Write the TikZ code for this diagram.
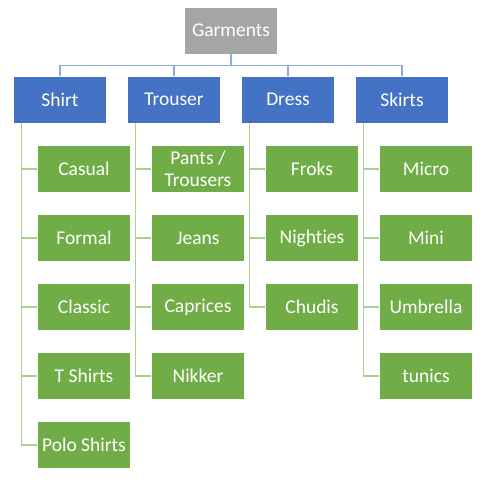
\documentclass[tikz,border=0pt]{standalone}
\usepackage{fontspec}
\setmainfont{Carlito}[Ligatures=NoCommon]
\usetikzlibrary{positioning}
\definecolor{headgray}{HTML}{A5A5A5}
\definecolor{catblue}{HTML}{4472C4}
\definecolor{itemgreen}{HTML}{70AD47}
\definecolor{linkblue}{HTML}{8FAADC}
\definecolor{linkgreen}{HTML}{A9D18E}
\tikzset{
    box/.style ={rectangle, draw=white, line width=0.6pt, text=white,
                 minimum width=93pt, minimum height=47pt, inner sep=1pt,
                 align=center, font=\fontsize{19.5}{22}\selectfont},
    head/.style ={box, fill=headgray},
    cat/.style ={box, fill=catblue},
    item/.style ={box, fill=itemgreen},
    toplink/.style ={draw=linkblue, line width=1.5pt},
    sublink/.style ={draw=linkgreen, line width=1.5pt}
    }

\begin{document}
\begin{tikzpicture}[x=1pt, y=-1pt]
    \useasboundingbox (0,0) rectangle (498,485);

    \node[head] (garments) at (231, 30.5) {Garments};

    \node[cat] (shirt)   at (60, 99.5)  {Shirt};
    \node[cat] (trouser) at (174, 99.5) {Trouser};
    \node[cat] (dress)   at (288, 99.5) {Dress};
    \node[cat] (skirts)  at (402, 99.5) {Skirts};

    % shirt column
    \node[item] (casual)  at (84, 169) {Casual};
    \node[item] (formal)  at (84, 238) {Formal};
    \node[item] (classic) at (84, 307) {Classic};
    \node[item] (tshirts) at (84, 376) {T Shirts};
    \node[item] (polo)    at (84, 445) {Polo Shirts};

    % trouser column
    \node[item] (pants)   at (198, 169) {Pants /\\Trousers};
    \node[item] (jeans)   at (198, 238) {Jeans};
    \node[item] (caprices) at (198, 307) {Caprices};
    \node[item] (nikker)  at (198, 376) {Nikker};

    % dress column
    \node[item] (froks)    at (312, 169) {Froks};
    \node[item] (nighties) at (312, 238) {Nighties};
    \node[item] (chudis)   at (312, 307) {Chudis};

    % skirts column
    \node[item] (micro)    at (426, 169) {Micro};
    \node[item] (mini)     at (426, 238) {Mini};
    \node[item] (umbrella) at (426, 307) {Umbrella};
    \node[item] (tunics)   at (426, 376) {tunics};

    \path[toplink] (garments.south) -- ++(0,11) -| (shirt.north);
    \path[toplink] (garments.south) -- ++(0,11) -| (trouser.north);
    \path[toplink] (garments.south) -- ++(0,11) -| (dress.north);
    \path[toplink] (garments.south) -- ++(0,11) -| (skirts.north);

    \foreach \p/\c in {shirt/casual, shirt/formal, shirt/classic, shirt/tshirts, shirt/polo,
                       trouser/pants, trouser/jeans, trouser/caprices, trouser/nikker,
                       dress/froks, dress/nighties, dress/chudis,
                       skirts/micro, skirts/mini, skirts/umbrella, skirts/tunics}
        \path[sublink] (\p.south west) ++(8.5,0) |- (\c.west);
\end{tikzpicture}
\end{document}
